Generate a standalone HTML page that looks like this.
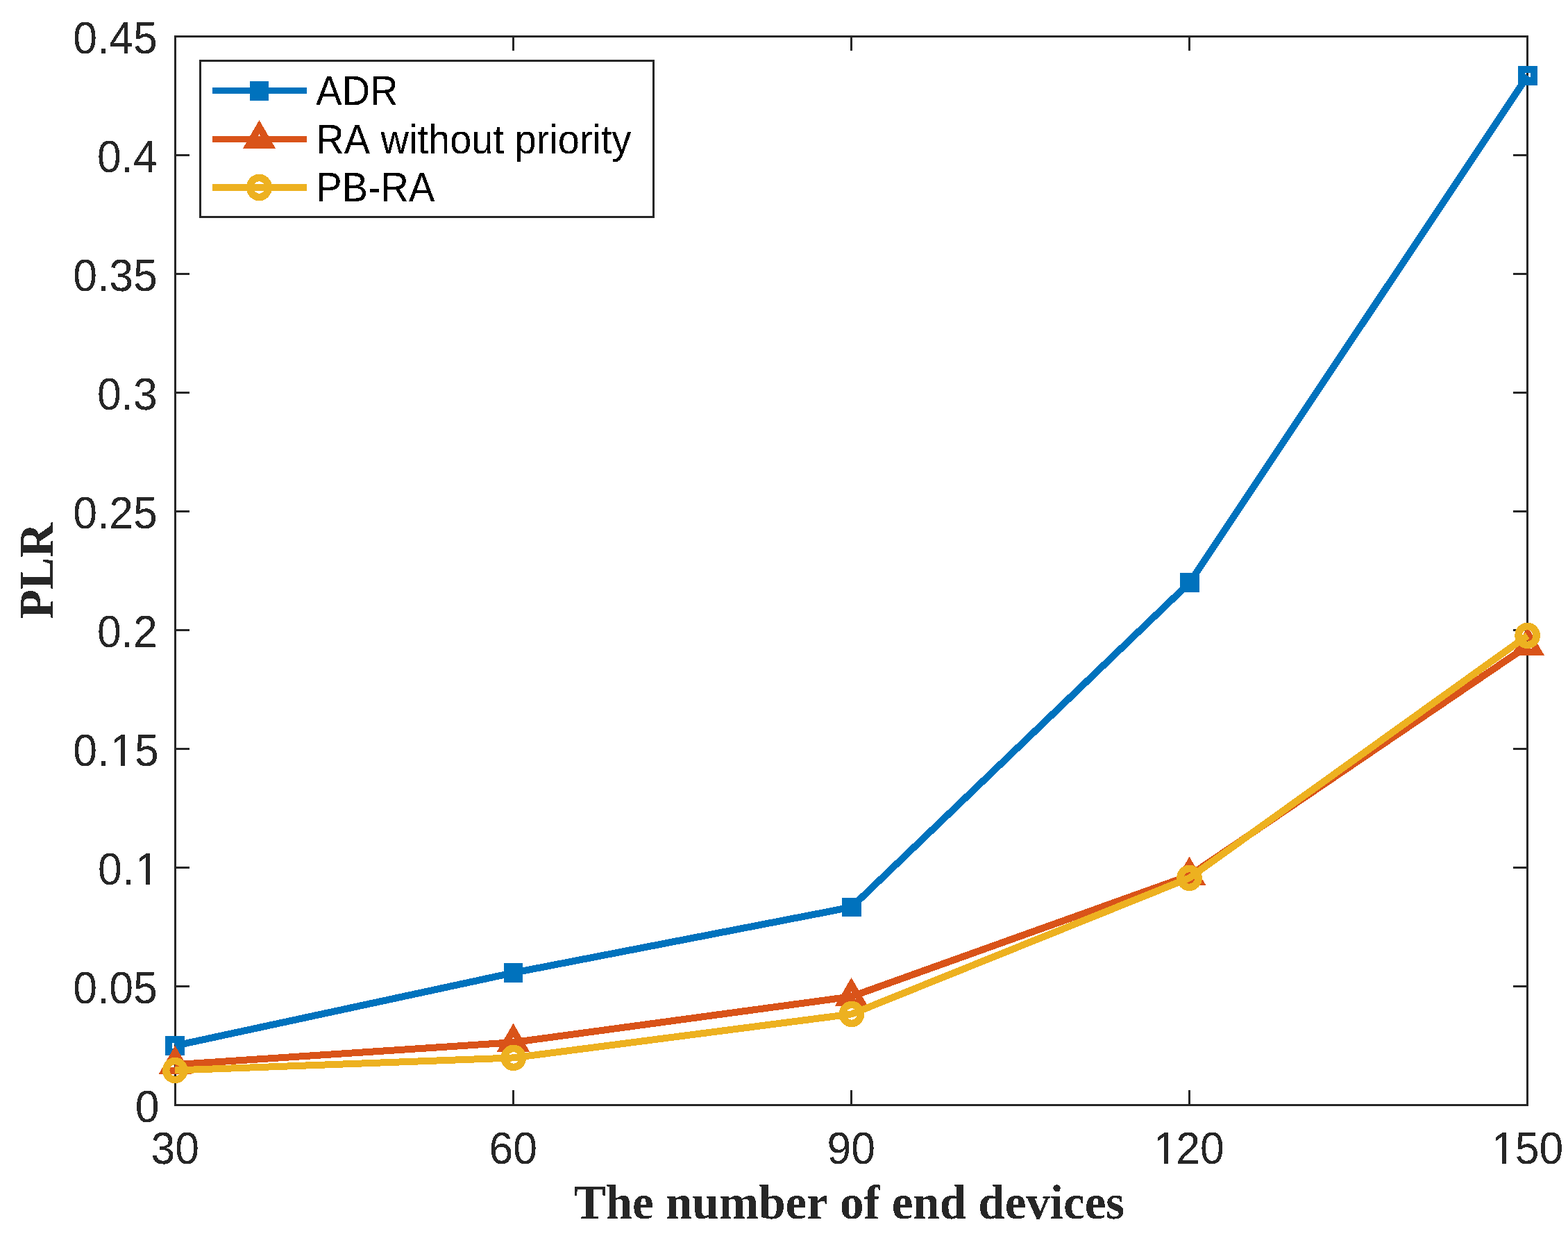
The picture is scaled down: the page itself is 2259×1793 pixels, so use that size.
<!DOCTYPE html>
<html><head><meta charset="utf-8"><title>PLR vs. the number of end devices</title>
<style>html,body{margin:0;padding:0;background:#fff;overflow:hidden;width:2259px;height:1793px}svg{display:block}svg *{shape-rendering:crispEdges}text{font-kerning:none;font-feature-settings:"kern" 0,"liga" 0}</style>
</head><body>
<svg width="2259" height="1793" viewBox="0 0 2259 1793"><defs><filter id="bin" x="-5%" y="-5%" width="110%" height="110%" color-interpolation-filters="sRGB"><feComponentTransfer><feFuncA type="discrete" tableValues="0 1"/></feComponentTransfer></filter></defs><rect x="0" y="0" width="2259" height="1793" fill="#fff"/><rect x="252.5" y="52.5" width="1948.0" height="1539.0" fill="none" stroke="#262626" stroke-width="3"/><path d="M252.5 1591.5V1570M252.5 52.5V73M739.5 1591.5V1570M739.5 52.5V73M1226.5 1591.5V1570M1226.5 52.5V73M1713.5 1591.5V1570M1713.5 52.5V73M2200.5 1591.5V1570M2200.5 52.5V73M252.5 1591.5H273M2200.5 1591.5H2180M252.5 1420.5H273M2200.5 1420.5H2180M252.5 1249.5H273M2200.5 1249.5H2180M252.5 1078.5H273M2200.5 1078.5H2180M252.5 907.5H273M2200.5 907.5H2180M252.5 736.5H273M2200.5 736.5H2180M252.5 565.5H273M2200.5 565.5H2180M252.5 394.5H273M2200.5 394.5H2180M252.5 223.5H273M2200.5 223.5H2180M252.5 52.5H273M2200.5 52.5H2180" fill="none" stroke="#262626" stroke-width="3"/><defs><clipPath id="c01"><path clip-rule="evenodd" d="M-20 -80H200V20H-20Z M60.06 -5.13H72.08V1.5H60.06Z M77.74 -5.13H89.25V1.5H77.74Z"/></clipPath><clipPath id="c015"><path clip-rule="evenodd" d="M-20 -80H200V20H-20Z M58.68 -5.13H70.70V1.5H58.68Z M76.35 -5.13H87.87V1.5H76.35Z"/></clipPath><clipPath id="c120"><path clip-rule="evenodd" d="M-20 -80H200V20H-20Z M4.48 -5.13H16.50V1.5H4.48Z M22.16 -5.13H33.68V1.5H22.16Z"/></clipPath><clipPath id="c150"><path clip-rule="evenodd" d="M-20 -80H200V20H-20Z M4.59 -5.13H16.61V1.5H4.59Z M22.26 -5.13H33.78V1.5H22.26Z"/></clipPath></defs><g font-family="'Liberation Sans', Arial, Helvetica, sans-serif" font-size="64" fill="#262626" filter="url(#bin)"><text transform="translate(194.84,1615.9) scale(0.9766,1)" x="0.00">0</text><text transform="translate(105.15,1444.9) scale(0.9766,1)" x="0.00 35.59 53.38 88.97">0.05</text><text transform="translate(139.91,1273.9) scale(0.9766,1)" x="1.02 37.44 55.99" clip-path="url(#c01)">0.1</text><text transform="translate(105.15,1102.9) scale(0.9766,1)" x="0.00 35.59 54.60 91.02" clip-path="url(#c015)">0.15</text><text transform="translate(139.91,931.9) scale(0.9766,1)" x="0.00 35.59 53.38">0.2</text><text transform="translate(105.15,760.9) scale(0.9766,1)" x="0.00 35.59 53.38 88.97">0.25</text><text transform="translate(139.91,589.9) scale(0.9766,1)" x="0.00 35.59 53.38">0.3</text><text transform="translate(105.15,418.9) scale(0.9766,1)" x="0.00 35.59 53.38 88.97">0.35</text><text transform="translate(139.91,247.9) scale(0.9766,1)" x="0.00 35.59 53.38">0.4</text><text transform="translate(105.15,76.9) scale(0.9766,1)" x="0.00 35.59 53.38 88.97">0.45</text><text transform="translate(217.44,1676.3) scale(0.9766,1)" x="0.00 35.59">30</text><text transform="translate(704.44,1676.3) scale(0.9766,1)" x="0.00 35.59">60</text><text transform="translate(1191.44,1676.3) scale(0.9766,1)" x="0.00 35.59">90</text><text transform="translate(1661.06,1676.3) scale(0.9766,1)" x="0.41 34.06 69.65" clip-path="url(#c120)">120</text><text transform="translate(2148.06,1676.3) scale(0.9766,1)" x="0.51 35.59 71.19" clip-path="url(#c150)">150</text></g><polyline points="252,1506 739.5,1401 1227,1306.4 1714,839 2201,109" fill="none" stroke="#0072BD" stroke-width="10" stroke-linejoin="round"/><path d="M243.20 1497.20h17.6v17.6h-17.6ZM730.70 1392.20h17.6v17.6h-17.6ZM1218.20 1297.60h17.6v17.6h-17.6ZM1705.20 830.20h17.6v17.6h-17.6ZM2192.20 100.20h17.6v17.6h-17.6Z" fill="none" stroke="#0072BD" stroke-width="10"/><polyline points="252.3,1533.3 739.5,1501.2 1226.5,1435.3 1713.5,1261.1 2201,930" fill="none" stroke="#D95319" stroke-width="10" stroke-linejoin="round"/><path d="M252.30 1515.80L267.46 1542.05L237.14 1542.05ZM739.50 1483.70L754.66 1509.95L724.34 1509.95ZM1226.50 1417.80L1241.66 1444.05L1211.34 1444.05ZM1713.50 1243.60L1728.66 1269.85L1698.34 1269.85ZM2201.00 912.50L2216.16 938.75L2185.84 938.75Z" fill="none" stroke="#D95319" stroke-width="10" stroke-miterlimit="10"/><polyline points="252.3,1541.5 739.8,1523.4 1227,1460.4 1713.5,1264.4 2200.6,915.4" fill="none" stroke="#EDB120" stroke-width="10" stroke-linejoin="round"/><ellipse cx="252.3" cy="1541.5" rx="13.1" ry="13.5" fill="none" stroke="#EDB120" stroke-width="10.5"/><ellipse cx="739.8" cy="1523.4" rx="13.1" ry="13.5" fill="none" stroke="#EDB120" stroke-width="10.5"/><ellipse cx="1227" cy="1460.4" rx="13.1" ry="13.5" fill="none" stroke="#EDB120" stroke-width="10.5"/><ellipse cx="1713.5" cy="1264.4" rx="13.1" ry="13.5" fill="none" stroke="#EDB120" stroke-width="10.5"/><ellipse cx="2200.6" cy="915.4" rx="13.1" ry="13.5" fill="none" stroke="#EDB120" stroke-width="10.5"/><rect x="288.5" y="87.5" width="653.0" height="225.0" fill="#fff" stroke="#262626" stroke-width="3"/><path d="M306 130.5H442" stroke="#0072BD" stroke-width="9"/><path d="M364.70 122.20h17.6v17.6h-17.6Z" fill="none" stroke="#0072BD" stroke-width="10"/><text transform="translate(455.3,150.9) scale(1,1.065)" font-family="'Liberation Sans', Arial, Helvetica, sans-serif" font-size="56" fill="#000" filter="url(#bin)">ADR</text><path d="M306 200.5H442" stroke="#D95319" stroke-width="9"/><path d="M373.50 182.90L388.66 209.15L358.34 209.15Z" fill="none" stroke="#D95319" stroke-width="10" stroke-miterlimit="10"/><text transform="translate(455.3,220.9) scale(1,1.065)" font-family="'Liberation Sans', Arial, Helvetica, sans-serif" font-size="56" fill="#000" filter="url(#bin)">RA without priority</text><path d="M306 270H442" stroke="#EDB120" stroke-width="10"/><ellipse cx="373.5" cy="270" rx="13.2" ry="14.1" fill="none" stroke="#EDB120" stroke-width="10.5"/><text transform="translate(455.3,290) scale(1,1.065)" font-family="'Liberation Sans', Arial, Helvetica, sans-serif" font-size="56" fill="#000" filter="url(#bin)">PB-RA</text><text transform="translate(76,822.2) rotate(-90)" text-anchor="middle" font-family="'Liberation Serif', 'Times New Roman', Times, serif" font-weight="bold" font-size="69" fill="#262626" filter="url(#bin)">PLR</text><text x="1223.4" y="1755" text-anchor="middle" font-family="'Liberation Serif', 'Times New Roman', Times, serif" font-weight="bold" font-size="69" fill="#262626" filter="url(#bin)">The number of end devices</text></svg>
</body></html>
